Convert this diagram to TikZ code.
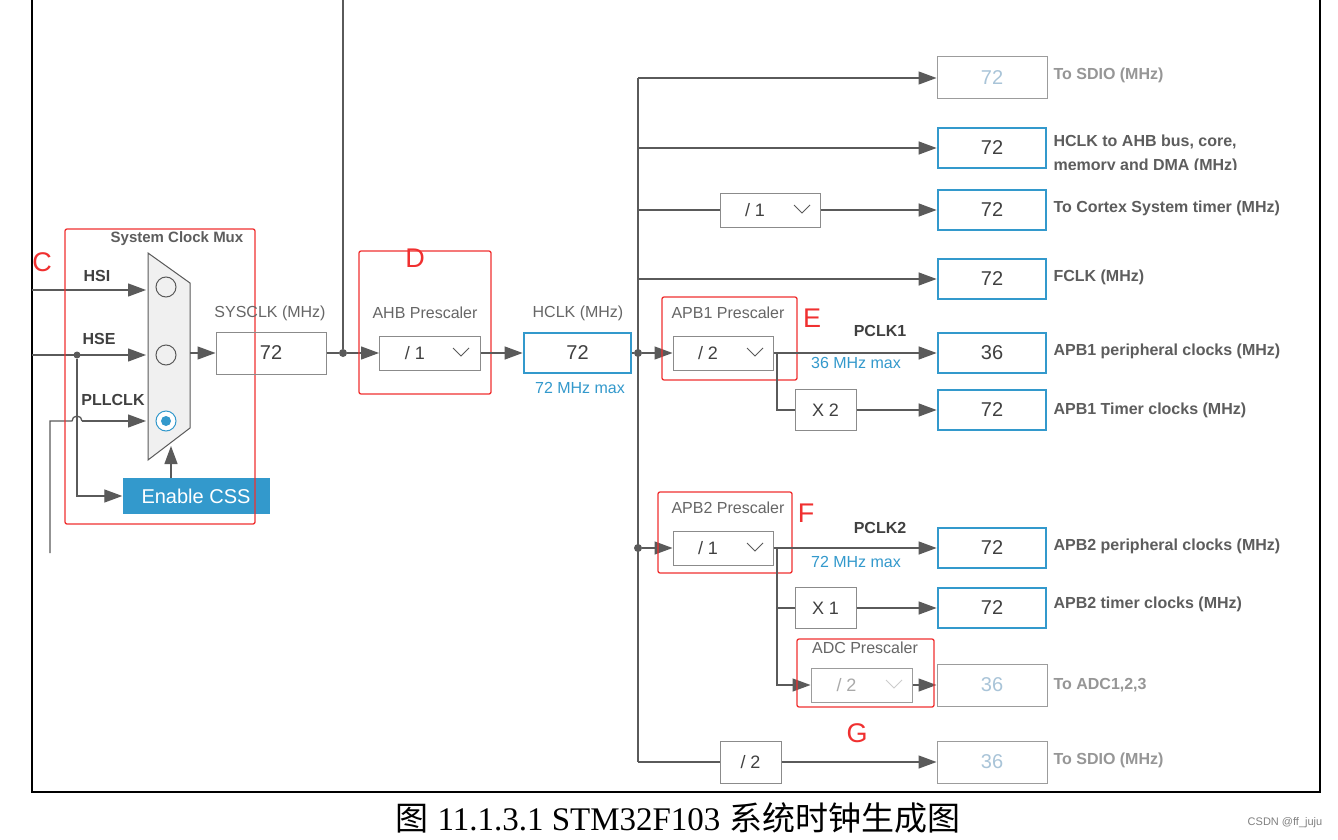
\documentclass[tikz,border=0pt]{standalone}
\usepackage{fontspec}
\setmainfont{Liberation Sans}
\newfontfamily\capfont{Liberation Serif}
\newfontfamily\cjk{Noto Sans CJK SC}
\usetikzlibrary{arrows.meta}
\definecolor{ln}{HTML}{5A5A5A}
\definecolor{bl}{HTML}{3399CC}
\definecolor{rd}{HTML}{F03030}
\definecolor{txt}{HTML}{404040}
\definecolor{dim}{HTML}{A9C4D8}
\begin{document}
\begin{tikzpicture}[x=1pt,y=-1pt,
  wire/.style={draw=ln,line width=1.3pt},
  arr/.style={wire,-{Triangle[length=18pt,width=13pt]}},
  gbox/.style={draw=ln!70,line width=1pt,minimum height=34pt,inner sep=0pt,font=\fontsize{18}{18}\selectfont,text=txt},
  vbox/.style={draw=bl,line width=2.8pt,minimum width=108pt,minimum height=40pt,inner sep=0pt,font=\fontsize{20}{20}\selectfont,text=txt},
  dbox/.style={draw=ln!60,line width=1pt,minimum width=110pt,minimum height=42pt,inner sep=0pt,font=\fontsize{20}{20}\selectfont,text=dim},
  rbox/.style={draw=rd,line width=1.3pt,rounded corners=2pt},
  lab/.style={font=\fontsize{16}{16}\selectfont,text=txt!80},
  rl/.style={font=\bfseries\fontsize{16}{24}\selectfont,text=txt!85,anchor=west,align=left},
  rlg/.style={rl,text=txt!55},
  big/.style={font=\fontsize{27}{27}\selectfont,text=rd},
  dot/.style={circle,fill=ln,inner sep=0pt,minimum size=8pt}]
\useasboundingbox (0,0) rectangle (1338,840);
\fill[white] (0,0) rectangle (1338,840);
\draw[black,line width=2pt] (32,-5) -- (32,792) -- (1320,792) -- (1320,-5);
\coordinate (vx) at (638,0);
% mux
\draw[ln,line width=1pt,fill=gray!12] (148,253) -- (190,283) -- (190,428) -- (148,460) -- cycle;
\node[draw=ln,line width=1pt,circle,minimum size=20pt,inner sep=0pt] (c1) at (166,287) {};
\node[draw=ln,line width=1pt,circle,minimum size=20pt,inner sep=0pt] (c2) at (166,355) {};
\node[draw=bl,line width=1pt,circle,minimum size=20pt,inner sep=0pt,fill=white] (c3) at (166,421) {};
\fill[bl] (c3) circle (5pt);
\coordinate (mo) at (190,353);
\node[fill=bl,minimum width=147pt,minimum height=36pt,inner sep=0pt,text=white,font=\fontsize{20}{20}\selectfont] (css) at (196,496) {Enable CSS};
\coordinate (hsi) at (32,290); \coordinate (hsiE) at (146,290);
\coordinate (hse) at (32,355); \coordinate (hseE) at (146,355);
\node[dot,minimum size=7pt] (hd) at (77,355) {};
\draw[arr] (hsi) -- (hsiE);
\draw[arr] (hse) -- (hseE);
\draw[arr] (hd) |- (css.west);
\coordinate (pl0) at (50,553);
\coordinate (plE) at (146,421);
\draw[wire] (pl0) -- (50,421) -- (72,421) arc[start angle=180,end angle=0,radius=5pt];
\draw[arr] (82,421) -- (plE);
\draw[arr] (171,478) -- (171,446);
\node[lab,text=txt] at (97,276) {\bfseries HSI};
\node[lab,text=txt] at (99,339) {\bfseries HSE};
\node[lab,text=txt] at (113,400) {\bfseries PLLCLK};
\node[rbox,minimum width=190pt,minimum height=295pt] (C) at (160,376.5) {};
\node[font=\bfseries\fontsize{15}{15}\selectfont,text=txt!85] at (177,239) {System Clock Mux};
\node[big] at (42,262) {C};
% sysclk
\node[gbox,minimum width=110pt,minimum height=42pt,font=\fontsize{20}{20}\selectfont] (sys) at (271,353) {72};
\node[lab] at (270,313) {SYSCLK (MHz)};
\draw[arr] (mo) -- (sys.west);
\node[dot] (sd) at (343,353) {};
\draw[wire] (343,-5) -- (sd);
% AHB
\node[gbox,minimum width=101pt,anchor=west] (ahb) at (379,353) {\hspace*{-30pt}/ 1};
\draw[ln,line width=1pt] (453,348) -- (461,356) -- (469,348);
\draw[wire] (sys.east) -- (sd);
\draw[arr] (sd) -- (ahb.west);
\node[rbox,minimum width=132pt,minimum height=143pt] at (425,322.5) {};
\node[lab] at (425,313) {AHB Prescaler};
\node[big] at (415,258) {D};
% HCLK
\node[vbox,minimum width=107pt,minimum height=40pt] (hclk) at (577.5,353) {72};
\node[lab] at (578,313) {HCLK (MHz)};
\node[lab,text=bl] at (580,388) {72 MHz max};
\draw[arr] (ahb.east) -- (hclk.west);
\node[dot] (hd1) at (638,353) {};
\node[dot] (hd2) at (638,548) {};
\draw[wire] (hclk.east) -- (hd1);
% right boxes
\node[dbox] (o1) at (992,78) {72};
\node[vbox] (o2) at (992,148) {72};
\node[vbox] (o3) at (992,210) {72};
\node[vbox] (o4) at (992,279) {72};
\node[vbox] (o5) at (992,353) {36};
\node[vbox] (o6) at (992,410) {72};
\node[vbox] (o7) at (992,548) {72};
\node[vbox] (o8) at (992,608) {72};
\node[dbox] (o9) at (992,685) {36};
\node[dbox] (o10) at (992,762) {36};
\draw[wire] (vx |- o1.west) -- (vx |- o10.west);
\node[rlg] at (1050,75) {To SDIO (MHz)};
\begin{scope}
\clip (1050,120) rectangle (1320,169);
\node[rl,anchor=north west] at (1050,131) {HCLK to AHB bus, core,\\memory and DMA (MHz)};
\end{scope}
\node[rl] at (1050,208) {To Cortex System timer (MHz)};
\node[rl] at (1050,277) {FCLK (MHz)};
\node[rl] at (1050,351) {APB1 peripheral clocks (MHz)};
\node[rl] at (1050,410) {APB1 Timer clocks (MHz)};
\node[rl] at (1050,546) {APB2 peripheral clocks (MHz)};
\node[rl] at (1050,604) {APB2 timer clocks (MHz)};
\node[rlg] at (1050,685) {To ADC1,2,3};
\node[rlg] at (1050,760) {To SDIO (MHz)};
% top branches
\draw[arr] (vx |- o1.west) -- (o1.west);
\draw[arr] (vx |- o2.west) -- (o2.west);
\node[gbox,minimum width=100pt] (d1) at (770,210) {\hspace*{-30pt}/ 1};
\draw[ln,line width=1pt] (794,205) -- (802,213) -- (810,205);
\draw[wire] (vx |- d1.west) -- (d1.west);
\draw[arr] (d1.east) -- (o3.west);
\draw[arr] (vx |- o4.west) -- (o4.west);
\node[gbox,minimum width=61pt,minimum height=42pt] (d2) at (750.5,762) {/ 2};
\draw[wire] (vx |- d2.west) -- (d2.west);
\draw[arr] (d2.east) -- (o10.west);
% APB1
\node[gbox,minimum width=100pt] (apb1) at (723,353) {\hspace*{-30pt}/ 2};
\draw[ln,line width=1pt] (747,348) -- (755,356) -- (763,348);
\draw[arr] (hd1) -- (apb1.west);
\node[rbox,minimum width=135pt,minimum height=83pt] at (729.5,338.5) {};
\node[lab] at (728,313) {APB1 Prescaler};
\node[big] at (812,318) {E};
\draw[arr] (apb1.east) -- (o5.west);
\node[font=\bfseries\fontsize{16}{16}\selectfont,text=txt] at (880,331) {PCLK1};
\node[lab,text=bl] at (856,363) {36 MHz max};
\node[gbox,minimum width=61pt,minimum height=41pt] (x2) at (825.5,410) {X 2};
\draw[wire] (777,353) |- (x2.west);
\draw[arr] (x2.east) -- (o6.west);
% APB2
\node[gbox,minimum width=100pt] (apb2) at (723,548) {\hspace*{-30pt}/ 1};
\draw[ln,line width=1pt] (747,543) -- (755,551) -- (763,543);
\draw[arr] (hd2) -- (apb2.west);
\node[rbox,minimum width=134pt,minimum height=81pt] at (725,532.5) {};
\node[lab] at (728,508) {APB2 Prescaler};
\node[big] at (806,513) {F};
\draw[arr] (apb2.east) -- (o7.west);
\node[font=\bfseries\fontsize{16}{16}\selectfont,text=txt] at (880,528) {PCLK2};
\node[lab,text=bl] at (856,562) {72 MHz max};
\node[gbox,minimum width=61pt,minimum height=41pt] (x1) at (825.5,608) {X 1};
\draw[wire] (777,548) |- (x1.west);
\draw[arr] (x1.east) -- (o8.west);
\node[gbox,minimum width=101pt,draw=ln!60,text=txt!45] (adc) at (861.5,685) {\hspace*{-30pt}/ 2};
\draw[gray!40,line width=1pt] (886,680) -- (894,688) -- (902,680);
\draw[arr] (777,608) |- (adc.west);
\draw[arr] (adc.east) -- (o9.west);
\node[rbox,minimum width=137pt,minimum height=68pt] at (865.5,673) {};
\node[lab] at (865,648) {ADC Prescaler};
\node[big] at (857,733) {G};
% caption
\node[font=\fontsize{33}{33}\selectfont] at (678,818) {{\cjk 图} {\capfont 11.1.3.1 STM32F103} {\cjk 系统时钟生成图}};
\node[font=\fontsize{11}{11}\selectfont,text=gray] at (1285,823) {CSDN @ff\_juju};
\end{tikzpicture}
\end{document}
